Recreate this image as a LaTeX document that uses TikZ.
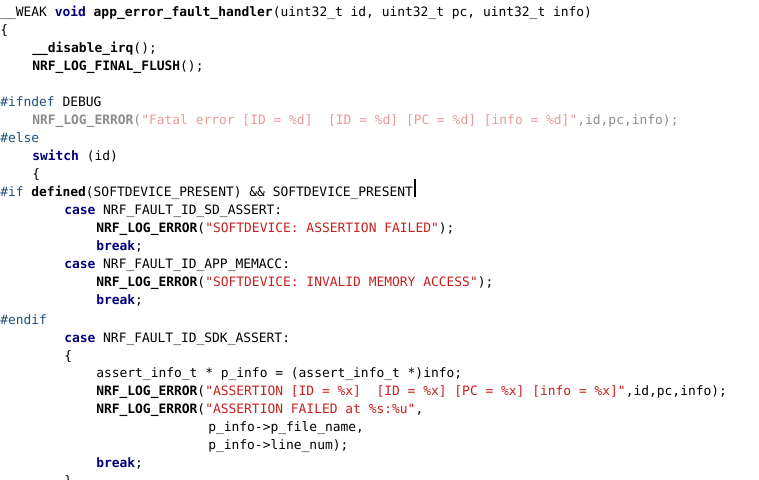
\documentclass[tikz,border=0pt]{standalone}
\usepackage{fontspec}
\newfontfamily\codefont{DejaVu Sans Mono}
\usepackage{tikz}
\definecolor{kwblue}{HTML}{00007F}
\definecolor{strred}{HTML}{C8201E}
\definecolor{ppblue}{HTML}{1F4F7F}
\definecolor{dimgray}{HTML}{8C8C8C}
\definecolor{dimred}{HTML}{E89A9A}
\newcommand{\kw}[1]{\textbf{\textcolor{kwblue}{#1}}}
\newcommand{\fn}[1]{\textbf{#1}}
\newcommand{\st}[1]{\textcolor{strred}{#1}}
\newcommand{\pp}[1]{\textcolor{ppblue}{#1}}
\begin{document}
\begin{tikzpicture}[x=0.75pt,y=-0.75pt]
\tikzset{
  code line/.style = {anchor=base west,inner sep=0,font=\codefont\fontsize{9.7pt}{12pt}\selectfont},
  dim line/.style  = {code line,text=dimgray}
}
\useasboundingbox (0,0) rectangle (759,479);

    \node[code line] (l1)  at (0,16)   {\_\_WEAK \kw{void} \fn{app\_error\_fault\_handler}(uint32\_t id, uint32\_t pc, uint32\_t info)};
    \node[code line] (l2)  at (0,34)   {\{};
    \node[code line] (l3)  at (32,52)  {\fn{\_\_disable\_irq}();};
    \node[code line] (l4)  at (32,70)  {\fn{NRF\_LOG\_FINAL\_FLUSH}();};
    %%%%%%%%%%%%%%%%%%%%%%%%%%
    \node[code line] (l6)  at (0,106)  {\pp{\#ifndef} DEBUG};
    \node[dim line]  (l7)  at (32,124) {\textbf{NRF\_LOG\_ERROR}(\textcolor{dimred}{"Fatal error [ID = \%d]\ \ [ID = \%d] [PC = \%d] [info = \%d]"},id,pc,info);};
    \node[code line] (l8)  at (0,142)  {\pp{\#else}};
    \node[code line] (l9)  at (32,160) {\kw{switch} (id)};
    \node[code line] (l10) at (32,178) {\{};
    \node[code line] (l11) at (0,196)  {\pp{\#if} \fn{defined}(SOFTDEVICE\_PRESENT) \&\& SOFTDEVICE\_PRESENT};
    \node[code line] (l12) at (64,214) {\kw{case} NRF\_FAULT\_ID\_SD\_ASSERT:};
    \node[code line] (l13) at (96,232) {\fn{NRF\_LOG\_ERROR}(\st{"SOFTDEVICE: ASSERTION FAILED"});};
    \node[code line] (l14) at (96,250) {\kw{break};};
    \node[code line] (l15) at (64,268) {\kw{case} NRF\_FAULT\_ID\_APP\_MEMACC:};
    \node[code line] (l16) at (96,286) {\fn{NRF\_LOG\_ERROR}(\st{"SOFTDEVICE: INVALID MEMORY ACCESS"});};
    \node[code line] (l17) at (96,304) {\kw{break};};
    %%%%%%%%%%%%%%%%%%%%%%%%%%
    \node[code line] (l18) at (0,324)  {\pp{\#endif}};
    \node[code line] (l19) at (64,342) {\kw{case} NRF\_FAULT\_ID\_SDK\_ASSERT:};
    \node[code line] (l20) at (64,360) {\{};
    \node[code line] (l21) at (96,377) {assert\_info\_t * p\_info = (assert\_info\_t *)info;};
    \node[code line] (l22) at (96,395) {\fn{NRF\_LOG\_ERROR}(\st{"ASSERTION [ID = \%x]\ \ [ID = \%x] [PC = \%x] [info = \%x]"},id,pc,info);};
    \node[code line] (l23) at (96,413) {\fn{NRF\_LOG\_ERROR}(\st{"ASSERTION FAILED at \%s:\%u"},};
    \node[code line] (l24) at (208,431) {p\_info->p\_file\_name,};
    \node[code line] (l25) at (208,449) {p\_info->line\_num);};
    \node[code line] (l26) at (96,467) {\kw{break};};
    \node[code line] (l27) at (64,485) {\}};

    % caret after the #if line
    \draw[line width=1.2pt] (l11.east) ++(1.5,-13) coordinate (c1) -- ++(0,18) coordinate (c2);
\end{tikzpicture}
\end{document}
